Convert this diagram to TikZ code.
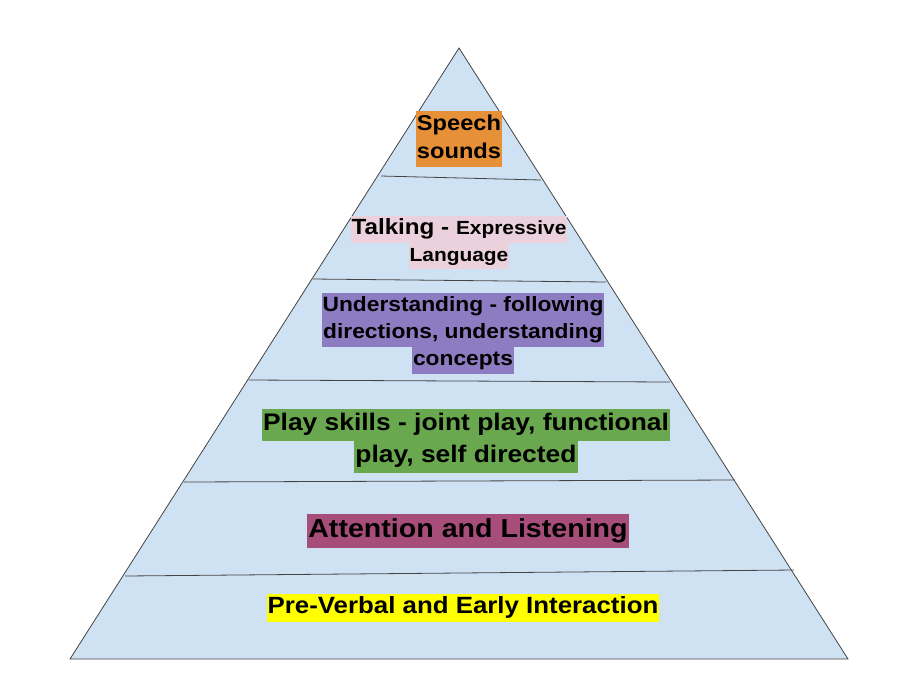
\documentclass[tikz,border=0pt]{standalone}
\usepackage{fontspec}
\setmainfont{Liberation Sans}[FakeStretch=1.1]
\definecolor{tri}{HTML}{CFE2F3}
\definecolor{edge}{HTML}{444444}
\definecolor{c1}{HTML}{E69138}
\definecolor{c2}{HTML}{EAD1DC}
\definecolor{c3}{HTML}{8E7CC3}
\definecolor{c4}{HTML}{6AA84F}
\definecolor{c5}{HTML}{A64D79}
\definecolor{c6}{HTML}{FFFF00}
\newcommand{\fs}[1]{\bfseries\fontsize{#1}{#1}\selectfont}
\begin{document}
\begin{tikzpicture}[x=1pt,y=-1pt,
  lab/.style={inner xsep=1pt,inner ysep=0pt,anchor=center,minimum height=28pt,text height=16pt,text depth=5pt},
  sep/.style={draw=edge,line width=0.8pt}]
\useasboundingbox (0,0) rectangle (917,681);
\coordinate (A) at (459,48);
\coordinate (L) at (70,659);
\coordinate (R) at (848,659);
\filldraw[fill=tri,draw=edge,line width=0.8pt] (A) -- (L) -- (R) -- cycle;
\draw[sep] (381,176) coordinate (s1l) -- (541,180) coordinate (s1r);
\draw[sep] (313,279) coordinate (s2l) -- (606,282) coordinate (s2r);
\draw[sep] (249,380) coordinate (s3l) -- (670,382) coordinate (s3r);
\draw[sep] (184,482) coordinate (s4l) -- (735,480) coordinate (s4r);
\draw[sep] (125,576) coordinate (s5l) -- (794,570) coordinate (s5r);
\node[lab,fill=c1,font=\fs{21.5}] (sp1) at (459,125) {Speech};
\node[lab,fill=c1,font=\fs{21.5}] (sp2) at (459,153) {sounds};
\node[lab,fill=c2,minimum height=27pt,font=\fs{22}] (t1) at (459,229) {Talking - {\fontsize{19}{19}\selectfont Expressive}};
\node[lab,fill=c2,minimum height=26pt,font=\fs{19}] (t2) at (459,256) {Language};
\node[lab,fill=c3,minimum height=27pt,font=\fs{20.7}] (u1) at (463,306) {Understanding - following};
\node[lab,fill=c3,minimum height=27pt,font=\fs{20.7}] (u2) at (463,333) {directions, understanding};
\node[lab,fill=c3,minimum height=27pt,font=\fs{20.7}] (u3) at (463,360) {concepts};
\node[lab,fill=c4,minimum height=32pt,text height=17pt,text depth=6pt,font=\fs{24}] (p1) at (466,425) {Play skills - joint play, functional};
\node[lab,fill=c4,minimum height=32pt,text height=17pt,text depth=6pt,font=\fs{24}] (p2) at (466,457) {play, self directed};
\node[lab,fill=c5,minimum height=34pt,text height=18pt,text depth=6pt,font=\fs{26}] (at) at (468,531) {Attention and Listening};
\node[lab,fill=c6,minimum height=28pt,font=\fs{23.5}] (pv) at (463,608) {Pre-Verbal and Early Interaction};
\end{tikzpicture}
\end{document}
